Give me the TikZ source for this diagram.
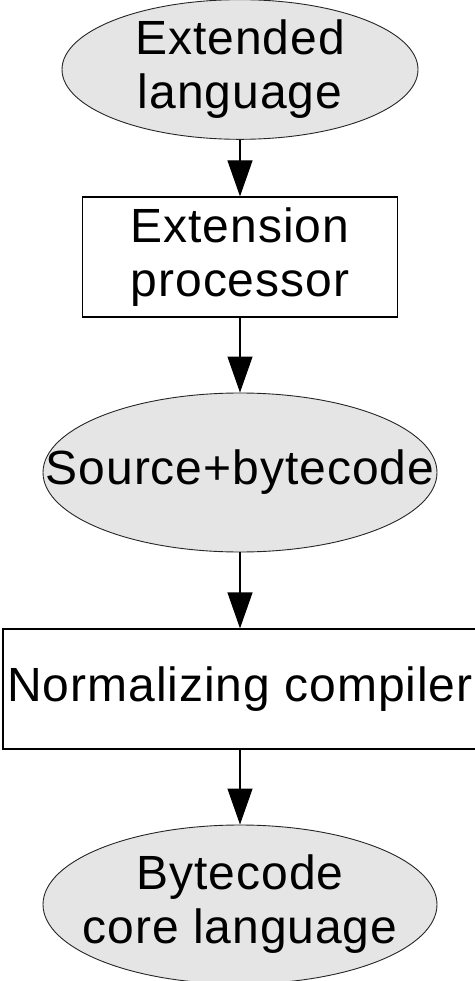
\documentclass[tikz,border=0pt]{standalone}
\usepackage{fontspec}
\setmainfont{Liberation Sans}[LetterSpace=2]
\usetikzlibrary{arrows.meta, positioning, shapes}

\newcommand{\nowide}[1]{\makebox[0pt]{#1}}

\begin{document}
\begin{tikzpicture}[x=1pt, y=1pt,
        every node/.style={font=\fontsize{48}{54}\selectfont, align=center, inner sep=0pt},
        blob/.style={ellipse, draw=black!85, fill=gray!20, line width=0.9pt, minimum width=394pt, minimum height=159pt},
        stepbox/.style={rectangle, draw, line width=1.2pt, minimum height=120pt},
        flow/.style={-{Triangle[length=36pt, width=25pt]}, line width=1.2pt}]
        \useasboundingbox (0,0) rectangle (474,-981);

        % Input language
        \node[blob, minimum width=356pt, minimum height=135pt] (ext) at (240,-69.5) {\nowide{Extended}\\\nowide{language}};

        % Extension processor
        \node[stepbox, minimum width=315pt] (proc) at (240,-257) {Extension\\processor};
        \draw[flow] (ext) -- (proc);

        % Intermediate form
        \node[blob] (src) at (240,-472.5) {\nowide{Source+bytecode}};
        \draw[flow] (proc) -- (src);

        % Normalizing compiler
        \node[stepbox, minimum width=474pt] (norm) at (240,-689) {Normalizing compiler};
        \draw[flow] (src) -- (norm);

        % Output language
        \node[blob] (core) at (240,-904.5) {\nowide{Bytecode}\\\nowide{core language}};
        \draw[flow] (norm) -- (core);
    \end{tikzpicture}
\end{document}
